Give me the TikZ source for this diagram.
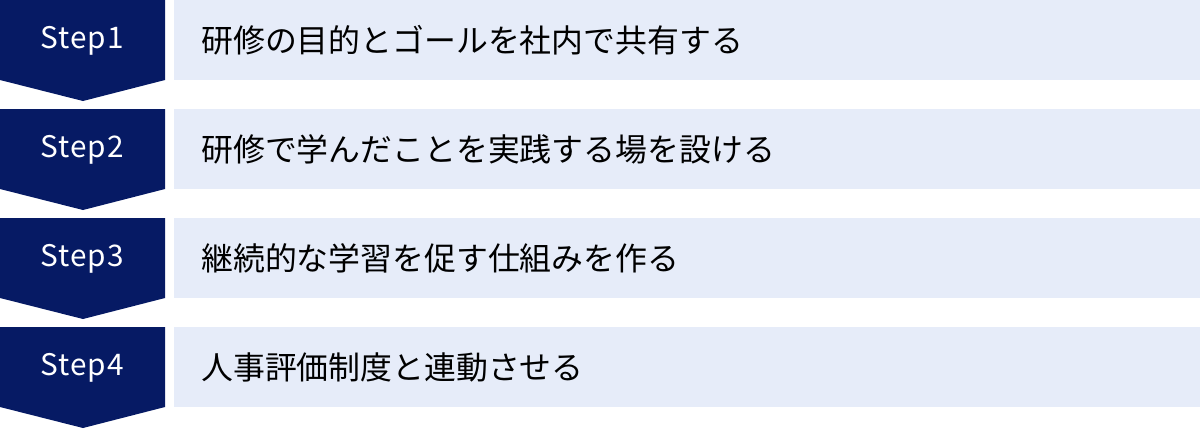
\documentclass[tikz,border=0pt]{standalone}
\usepackage{fontspec}
\setmainfont{Noto Sans CJK JP}
\newfontfamily\tagfont[LetterSpace=4]{Noto Sans CJK JP}
\definecolor{stepnavy}{HTML}{061A64}
\definecolor{steplight}{HTML}{E6ECF9}
\tikzstyle{stepbar}=[fill=stepnavy]
\tikzstyle{stepband}=[fill=steplight]
\tikzstyle{steptag}=[text=white,font=\tagfont\fontsize{22.3}{26}\selectfont,inner sep=0pt]
\tikzstyle{steptext}=[anchor=west,text=black,font=\fontsize{23.9}{28}\selectfont,inner sep=0pt]

\begin{document}
\begin{tikzpicture}[x=0.75pt,y=0.75pt]
		\useasboundingbox (0,0) rectangle (1200,-429);
		% step 1
		\fill[stepbar] (0,0) -- (165,0) -- (165,-80) -- (83,-101) -- (0,-80) -- cycle;
		\fill[stepband] (174,0) rectangle (1200,-80);
		\node[steptag] (s1) at (82,-41) {Step1};
		\node[steptext] (t1) at (201,-40) {研修の目的とゴールを社内で共有する};
		% step 2
		\fill[stepbar] (0,-109) -- (165,-109) -- (165,-189) -- (83,-210) -- (0,-189) -- cycle;
		\fill[stepband] (174,-109) rectangle (1200,-189);
		\node[steptag] (s2) at (82,-150) {Step2};
		\node[steptext] (t2) at (201,-149) {研修で学んだことを実践する場を設ける};
		% step 3
		\fill[stepbar] (0,-218) -- (165,-218) -- (165,-298) -- (83,-319) -- (0,-298) -- cycle;
		\fill[stepband] (174,-218) rectangle (1200,-298);
		\node[steptag] (s3) at (82,-259) {Step3};
		\node[steptext] (t3) at (201,-258) {継続的な学習を促す仕組みを作る};
		% step 4
		\fill[stepbar] (0,-327) -- (165,-327) -- (165,-407) -- (83,-428) -- (0,-407) -- cycle;
		\fill[stepband] (174,-327) rectangle (1200,-407);
		\node[steptag] (s4) at (82,-368) {Step4};
		\node[steptext] (t4) at (201,-367) {人事評価制度と連動させる};
\end{tikzpicture}
\end{document}
